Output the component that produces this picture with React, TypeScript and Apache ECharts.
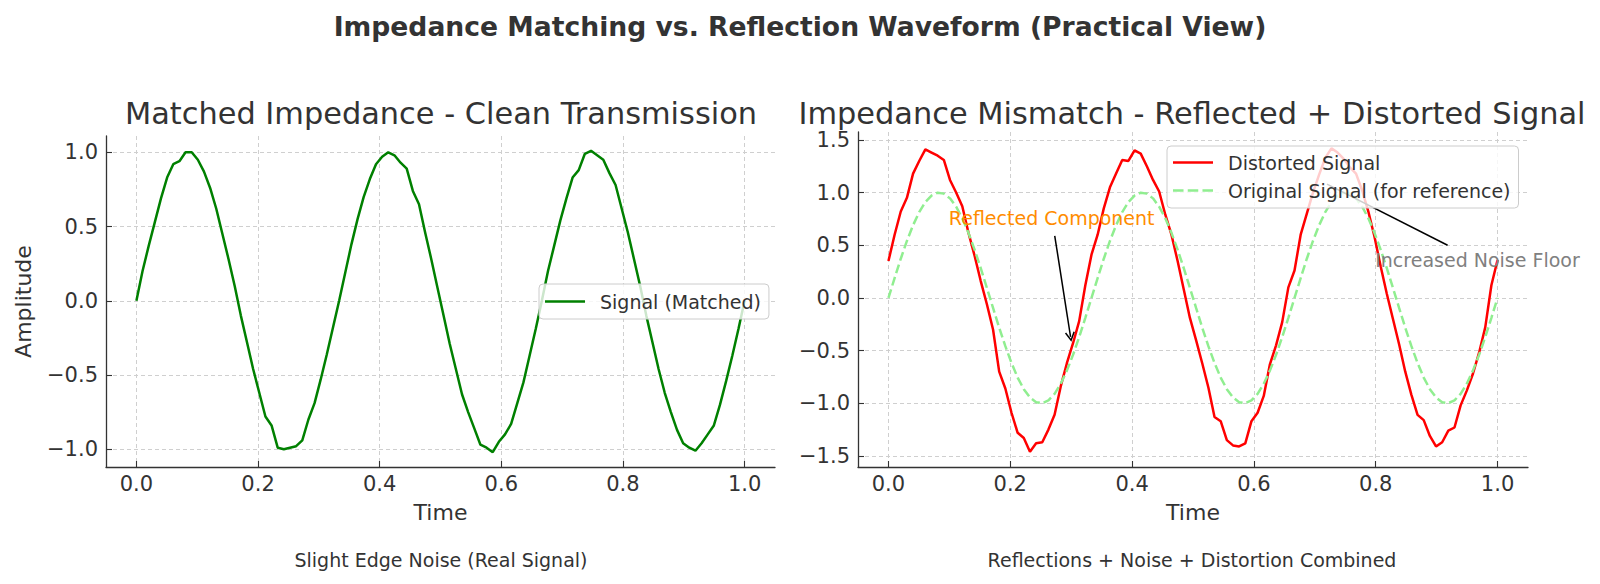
import React, { useEffect, useRef } from "react";
import * as echarts from "echarts";

// Sample instants: 100 evenly spaced points over one second
const SAMPLE_COUNT = 100;
const time: number[] = Array.from({ length: SAMPLE_COUNT }, (_, i) => i / (SAMPLE_COUNT - 1));

// Matched line: clean 3-cycle waveform with a little edge noise
const matchedSignal: number[] = [
  0.0, 0.2, 0.37, 0.53, 0.69, 0.83, 0.92, 0.94, 1.0, 1.0,
  0.95, 0.87, 0.76, 0.62, 0.45, 0.28, 0.1, -0.1, -0.28, -0.46,
  -0.62, -0.78, -0.84, -0.99, -1.0, -0.99, -0.98, -0.94, -0.8, -0.69,
  -0.53, -0.36, -0.18, 0.0, 0.19, 0.38, 0.55, 0.7, 0.82, 0.92,
  0.97, 1.0, 0.98, 0.93, 0.89, 0.74, 0.65, 0.46, 0.28, 0.09,
  -0.1, -0.29, -0.46, -0.63, -0.75, -0.86, -0.97, -0.99, -1.02, -0.95,
  -0.9, -0.83, -0.69, -0.55, -0.37, -0.19, 0.0, 0.2, 0.37, 0.54,
  0.69, 0.83, 0.88, 0.99, 1.01, 0.98, 0.95, 0.86, 0.78, 0.62,
  0.46, 0.28, 0.1, -0.1, -0.28, -0.46, -0.62, -0.75, -0.87, -0.96,
  -0.99, -1.01, -0.96, -0.9, -0.84, -0.7, -0.54, -0.37, -0.19, 0.0,
];

// Mismatched line: reflected + distorted waveform
const distortedSignal: number[] = [
  0.35, 0.6, 0.82, 0.95, 1.18, 1.3, 1.41, 1.38, 1.35, 1.31,
  1.12, 1.0, 0.87, 0.62, 0.4, 0.16, -0.06, -0.3, -0.7, -0.86,
  -1.09, -1.28, -1.33, -1.46, -1.38, -1.37, -1.25, -1.11, -0.84, -0.62,
  -0.43, -0.22, 0.12, 0.41, 0.6, 0.85, 1.05, 1.18, 1.31, 1.3,
  1.4, 1.37, 1.25, 1.12, 1.01, 0.79, 0.6, 0.35, 0.08, -0.19,
  -0.4, -0.62, -0.85, -1.13, -1.17, -1.35, -1.4, -1.41, -1.38, -1.17,
  -1.09, -0.93, -0.63, -0.45, -0.23, 0.1, 0.26, 0.6, 0.8, 1.0,
  1.17, 1.33, 1.42, 1.38, 1.32, 1.24, 1.18, 1.02, 0.82, 0.58,
  0.3, 0.04, -0.2, -0.44, -0.7, -0.92, -1.11, -1.16, -1.31, -1.41,
  -1.37, -1.26, -1.23, -1.02, -0.88, -0.72, -0.52, -0.28, 0.12, 0.36,
];

// Reference (undistorted) waveform
const originalSignal: number[] = [
  0.0, 0.189, 0.372, 0.541, 0.69, 0.815, 0.91, 0.972, 0.999, 0.99,
  0.945, 0.866, 0.756, 0.618, 0.458, 0.282, 0.095, -0.095, -0.282, -0.458,
  -0.618, -0.756, -0.866, -0.945, -0.99, -0.999, -0.972, -0.91, -0.815, -0.69,
  -0.541, -0.372, -0.189, 0.0, 0.189, 0.372, 0.541, 0.69, 0.815, 0.91,
  0.972, 0.999, 0.99, 0.945, 0.866, 0.756, 0.618, 0.458, 0.282, 0.095,
  -0.095, -0.282, -0.458, -0.618, -0.756, -0.866, -0.945, -0.99, -0.999, -0.972,
  -0.91, -0.815, -0.69, -0.541, -0.372, -0.189, 0.0, 0.189, 0.372, 0.541,
  0.69, 0.815, 0.91, 0.972, 0.999, 0.99, 0.945, 0.866, 0.756, 0.618,
  0.458, 0.282, 0.095, -0.095, -0.282, -0.458, -0.618, -0.756, -0.866, -0.945,
  -0.99, -0.999, -0.972, -0.91, -0.815, -0.69, -0.541, -0.372, -0.189, 0.0,
];

const timeTicks = [0, 0.2, 0.4, 0.6, 0.8, 1.0];
const matchedTicks = [-1, -0.5, 0, 0.5, 1];
const mismatchTicks = [-1.5, -1, -0.5, 0, 0.5, 1, 1.5];

const FONT = "DejaVu Sans";
const TEXT = "#333333";
const AXIS = "#333333";
const GRID_LINE = "#cfcfcf";

// Legend handles: a solid stroke and a dashed stroke
const SOLID_ICON = "path://M0,0h40v2.5h-40z";
const DASHED_ICON = "path://M0,0h10v2.5h-10z M14,0h10v2.5h-10z M28,0h10v2.5h-10z";
// Open "->" style arrow head
const OPEN_HEAD = "path://M5,0 L10,9 L8.7,9.7 L5,3 L1.3,9.7 L0,9 Z";

const fmt = (v: number) => {
  const s = Math.abs(v).toFixed(1);
  return v < -1e-9 ? "\u2212" + s : s;
};

const pairs = (ys: number[]) => time.map((t, i) => [t, ys[i]]);

function timeAxis(gridIndex: number) {
  return {
    type: "value",
    gridIndex,
    min: -0.05,
    max: 1.05,
    name: "Time",
    nameLocation: "middle",
    nameGap: 34,
    nameTextStyle: { fontFamily: FONT, fontSize: 22, color: TEXT },
    axisLine: { show: true, onZero: false, lineStyle: { color: AXIS, width: 1.3 } },
    axisTick: { show: true, inside: true, length: 6, customValues: timeTicks, lineStyle: { color: AXIS, width: 1.1 } },
    axisLabel: { customValues: timeTicks, formatter: fmt, margin: 6, fontFamily: FONT, fontSize: 21, color: TEXT },
    splitLine: { show: true, lineStyle: { color: GRID_LINE, type: [4, 3], width: 1 } },
  };
}

function ampAxis(gridIndex: number, min: number, max: number, ticks: number[], name: string) {
  return {
    type: "value",
    gridIndex,
    min,
    max,
    name,
    nameLocation: "middle",
    nameGap: 72,
    nameTextStyle: { fontFamily: FONT, fontSize: 22, color: TEXT },
    axisLine: { show: true, onZero: false, lineStyle: { color: AXIS, width: 1.3 } },
    axisTick: { show: true, inside: true, length: 6, customValues: ticks, lineStyle: { color: AXIS, width: 1.1 } },
    axisLabel: { customValues: ticks, formatter: fmt, margin: 8, fontFamily: FONT, fontSize: 21, color: TEXT },
    splitLine: { show: true, lineStyle: { color: GRID_LINE, type: [4, 3], width: 1 } },
  };
}

const legendBase = {
  orient: "vertical",
  z: 10,
  itemWidth: 40,
  itemHeight: 19,
  itemGap: 9,
  selectedMode: false,
  backgroundColor: "rgba(255,255,255,0.8)",
  borderColor: "#cccccc",
  borderWidth: 1,
  borderRadius: 4,
  textStyle: { fontFamily: FONT, fontSize: 19, color: TEXT, padding: [0, 0, 0, 10] },
};

function centeredText(text: string, x: number, y: number, size: number, weight = "normal") {
  return {
    type: "text",
    x,
    y,
    silent: true,
    style: {
      text,
      fill: TEXT,
      fontFamily: FONT,
      fontSize: size,
      fontWeight: weight,
      align: "center",
      verticalAlign: "middle",
    },
  };
}

export default function App() {
  const ref = useRef<HTMLDivElement>(null);

  useEffect(() => {
    if (!ref.current) return;
    const chart = echarts.init(ref.current, null, { renderer: "svg" });
    chart.setOption({
      animation: false,
      backgroundColor: "#ffffff",
      textStyle: { fontFamily: FONT },
      grid: [
        { left: 106, top: 136, width: 669, height: 331 },
        { left: 858, top: 132, width: 670, height: 335 },
      ],
      xAxis: [timeAxis(0), timeAxis(1)],
      yAxis: [
        ampAxis(0, -1.12, 1.11, matchedTicks, "Amplitude"),
        ampAxis(1, -1.605, 1.575, mismatchTicks, ""),
      ],
      legend: [
        {
          ...legendBase,
          data: [{ name: "Signal (Matched)", icon: SOLID_ICON }],
          left: 539,
          top: 284,
          padding: [8, 8, 8, 6],
        },
        {
          ...legendBase,
          data: [
            { name: "Distorted Signal", icon: SOLID_ICON },
            { name: "Original Signal (for reference)", icon: DASHED_ICON },
          ],
          left: 1167,
          top: 146,
          padding: [7, 8, 8, 6],
        },
      ],
      series: [
        {
          type: "line",
          name: "Signal (Matched)",
          xAxisIndex: 0,
          yAxisIndex: 0,
          data: pairs(matchedSignal),
          symbol: "none",
          showSymbol: false,
          lineStyle: { color: "#008000", width: 2.5 },
          itemStyle: { color: "#008000" },
        },
        {
          type: "line",
          name: "Distorted Signal",
          xAxisIndex: 1,
          yAxisIndex: 1,
          data: pairs(distortedSignal),
          symbol: "none",
          showSymbol: false,
          lineStyle: { color: "#ff0000", width: 2.5 },
          itemStyle: { color: "#ff0000" },
          markLine: {
            silent: true,
            symbol: ["none", OPEN_HEAD],
            symbolSize: 10,
            label: { show: false },
            lineStyle: { color: "#000000", width: 1.5, type: "solid" },
            emphasis: { disabled: true },
            data: [
              [{ coord: [0.273, 0.59] }, { coord: [0.299, -0.37] }],
              [{ coord: [0.918, 0.5], symbol: "none" }, { coord: [0.72, 1.08], symbol: "none" }],
            ],
          },
        },
        {
          type: "line",
          name: "Original Signal (for reference)",
          xAxisIndex: 1,
          yAxisIndex: 1,
          data: pairs(originalSignal),
          symbol: "none",
          showSymbol: false,
          lineStyle: { color: "#90ee90", width: 2.5, type: [9, 4] },
          itemStyle: { color: "#90ee90" },
          markPoint: {
            silent: true,
            symbol: "circle",
            symbolSize: 1,
            itemStyle: { color: "rgba(0,0,0,0)" },
            label: {
              show: true,
              position: [0, 0],
              align: "left",
              verticalAlign: "bottom",
              offset: [0, 4],
              fontFamily: FONT,
              fontSize: 19,
            },
            data: [
              { coord: [0.1, 0.7], label: { formatter: "Reflected Component", color: "#ff8c00" } },
              { coord: [0.8, 0.3], label: { formatter: "Increased Noise Floor", color: "#808080" } },
            ],
          },
        },
      ],
      graphic: [
        centeredText("Impedance Matching vs. Reflection Waveform (Practical View)", 800, 26, 26.6, "bold"),
        centeredText("Matched Impedance - Clean Transmission", 441, 113, 30.4),
        centeredText("Impedance Mismatch - Reflected + Distorted Signal", 1192, 113, 30.4),
        centeredText("Slight Edge Noise (Real Signal)", 441, 560, 19),
        centeredText("Reflections + Noise + Distortion Combined", 1192, 560, 19),
      ],
    });
    return () => chart.dispose();
  }, []);

  return (
    <div
      ref={ref}
      style={{ position: "fixed", left: 0, top: 0, width: 1600, height: 584, background: "#ffffff" }}
    />
  );
}
